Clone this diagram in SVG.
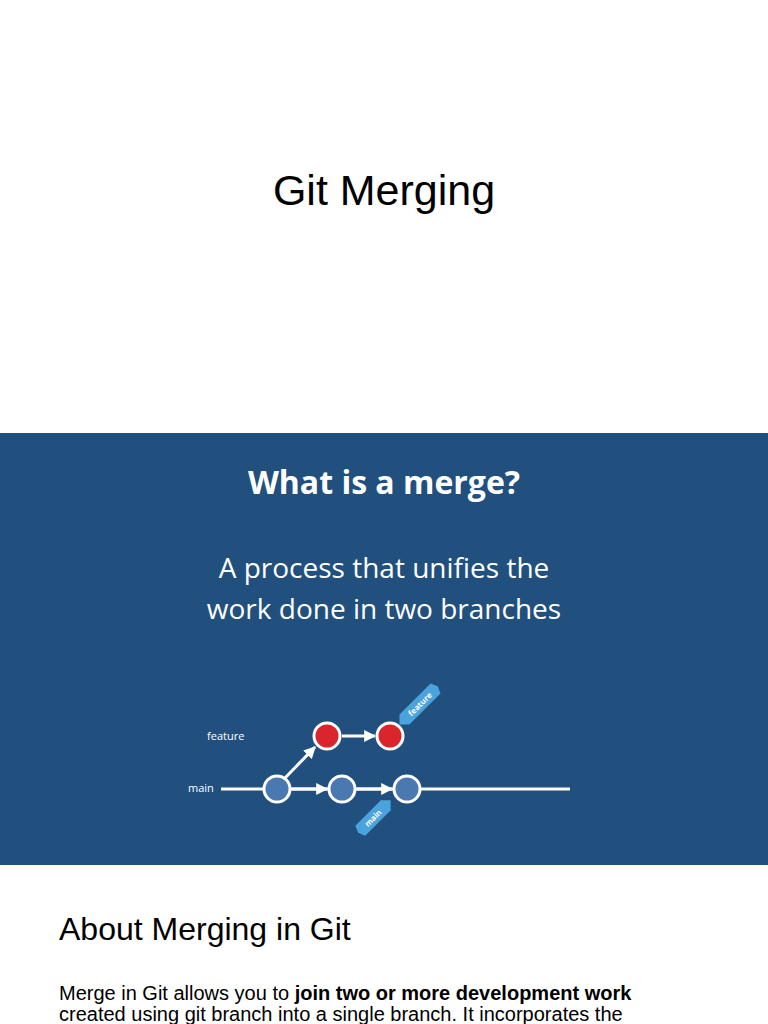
<svg xmlns="http://www.w3.org/2000/svg" width="768" height="1024" viewBox="0 0 768 1024">
<defs>
<style>
.w{fill:#fff;font-family:"Open Sans","Liberation Sans",sans-serif}
.c{font-family:"Liberation Sans",Calibri,sans-serif;fill:#000}
.ln{stroke:#fff;stroke-width:3;fill:none}
.nb{fill:#4a78b0;stroke:#fff;stroke-width:3}
.nr{fill:#d9252b;stroke:#fff;stroke-width:3}
.tag{fill:#4aa3dc}
</style>
<marker id="ah" viewBox="0 0 10 10" refX="9" refY="5" markerWidth="4" markerHeight="4" orient="auto"><path d="M0,0L10,5L0,10z" fill="#fff"/></marker>
</defs>
<rect width="768" height="1024" fill="#fff"/>
<text class="c" x="384" y="205" font-size="43" text-anchor="middle">Git Merging</text>
<rect x="0" y="433" width="768" height="432" fill="#21507f"/>
<text class="w" x="384" y="494" font-size="32" font-weight="bold" text-anchor="middle">What is a merge?</text>
<text class="w" x="384" y="578" font-size="28" text-anchor="middle">A process that unifies the</text>
<text class="w" x="384" y="619" font-size="28" text-anchor="middle">work done in two branches</text>
<text class="w" x="207" y="740" font-size="11">feature</text>
<text class="w" x="188" y="792" font-size="11">main</text>
<g id="connectors">
<line class="ln" x1="221" y1="789" x2="570" y2="789"/>
<line class="ln" x1="292" y1="789" x2="327" y2="789" marker-end="url(#ah)"/>
<line class="ln" x1="357" y1="789" x2="392" y2="789" marker-end="url(#ah)"/>
<line class="ln" x1="285" y1="778" x2="315" y2="747" marker-end="url(#ah)"/>
<line class="ln" x1="342" y1="736" x2="375" y2="736" marker-end="url(#ah)"/>
</g>
<g id="c1"><circle class="nb" cx="277" cy="789" r="13"/></g>
<g id="c2"><circle class="nb" cx="342" cy="789" r="13"/></g>
<g id="c3"><circle class="nb" cx="407" cy="789" r="13"/></g>
<g id="f1"><circle class="nr" cx="327" cy="736" r="13"/></g>
<g id="f2"><circle class="nr" cx="390" cy="736" r="13"/></g>
<g id="tagf" transform="translate(420,704) rotate(-45)">
<path class="tag" d="M-22,-7L22,-7L25,0L22,7L-22,7L-29,0z"/>
<text class="w" x="0" y="3" font-size="8" font-weight="bold" text-anchor="middle">feature</text>
</g>
<g id="tagm" transform="translate(373,818) rotate(-45)">
<path class="tag" d="M-18,-7L18,-7L25,0L18,7L-18,7L-21,0z"/>
<text class="w" x="0" y="3" font-size="8" font-weight="bold" text-anchor="middle">main</text>
</g>
<text class="c" x="59" y="940" font-size="32">About Merging in Git</text>
<text class="c" x="59" y="1000" font-size="20">Merge in Git allows you to <tspan font-weight="bold">join two or more development work</tspan></text>
<text class="c" x="59" y="1021" font-size="20">created using git branch into a single branch. It incorporates the</text>
</svg>
